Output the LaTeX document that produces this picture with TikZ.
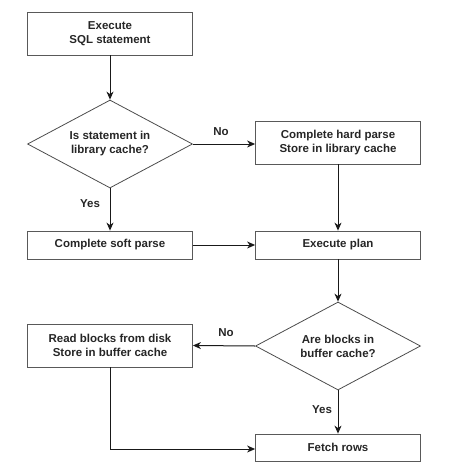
\documentclass[tikz,border=0pt]{standalone}
\usepackage{fontspec}
\setmainfont{Liberation Sans}
\usetikzlibrary{arrows.meta,shapes.geometric}
\begin{document}
\begin{tikzpicture}[x=1pt,y=-1pt,
  box/.style={draw=black!65,line width=0.8pt,rectangle,minimum width=165pt,inner sep=0pt,align=center,font=\fontsize{11.5}{14}\selectfont\bfseries,text=black!85},
  decision/.style={draw=black!70,line width=0.8pt,diamond,aspect=2,minimum width=165pt,minimum height=88pt,inner sep=0pt,align=center,font=\fontsize{11.5}{14}\selectfont\bfseries,text=black!85},
  flow/.style={draw=black!90,line width=1pt,-{Stealth[length=8pt,width=7pt,inset=2.5pt]}},
  plain/.style={draw=black!90,line width=1pt},
  lbl/.style={font=\fontsize{11.5}{14}\selectfont\bfseries,text=black!85,inner sep=0pt}]
\useasboundingbox (0,0) rectangle (474,474);
\node[box,minimum height=43pt] (exec) at (110,33.5) {Execute\\SQL statement};
\node[decision] (d1) at (110,144) {Is statement in\\library cache?};
\node[box,minimum height=43pt] (hard) at (338,142.5) {Complete hard parse\\Store in library cache};
\node[box,minimum height=28pt] (soft) at (110,245) {Complete soft parse};
\node[box,minimum height=28pt] (plan) at (338,245) {Execute plan};
\node[decision] (d2) at (338,346) {Are blocks in\\buffer cache?};
\node[box,minimum height=43pt] (read) at (110,345.5) {Read blocks from disk\\Store in buffer cache};
\node[box,minimum height=27pt] (fetch) at (338,447.5) {Fetch rows};
\node[lbl] (no1) at (221,132) {No};
\node[lbl] (yes1) at (90,204) {Yes};
\node[lbl] (no2) at (226,333) {No};
\node[lbl] (yes2) at (322,410) {Yes};
\draw[flow] (exec.south) -- (d1.north);
\draw[flow] (d1.east) -- (d1.east -| hard.west);
\draw[flow] (d1.south) -- (soft.north);
\draw[flow] (hard.south) -- (plan.north);
\draw[flow] (soft.east) -- (plan.west);
\draw[flow] (plan.south) -- (d2.north);
\draw[flow] (d2.west) -- (read.east);
\draw[flow] (d2.south) -- (fetch.north);
\coordinate (corner) at (read.south |- 0,449);
\draw[plain] (read.south) -- (corner);
\draw[flow] (corner) -- (corner -| fetch.west);
\end{tikzpicture}
\end{document}
